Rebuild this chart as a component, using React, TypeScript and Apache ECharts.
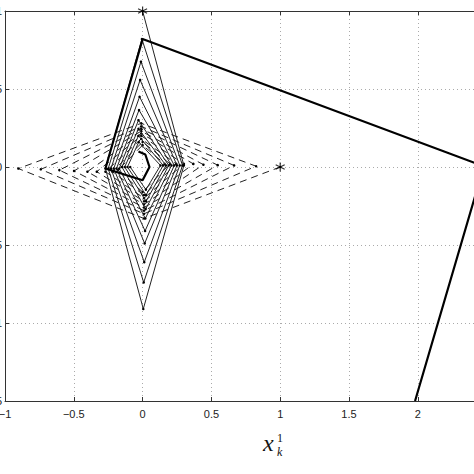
import React, { useEffect, useRef } from "react";
import * as echarts from "echarts";

// x-axis ticks / ranges
const xTicks = [-1, -0.5, 0, 0.5, 1, 1.5, 2];
const yTicks = [-1.5, -1, -0.5, 0, 0.5, 1];

// thin solid spiral (starts at the star (0,1))
const solidX = [0, 0.30, 0.005, -0.27, -0.005, 0.29, 0.008, -0.25, -0.012, 0.27, 0.012, -0.23, -0.018, 0.25, 0.015, -0.21, -0.022, 0.23, 0.018, -0.19, -0.026, 0.21, 0.02, -0.17, -0.03, 0.19, 0.022, -0.15, -0.03, 0.17, 0.025, -0.13, -0.03, 0.15, 0.025, -0.11, -0.028, 0.13, 0.024, -0.09];
const solidY = [1, 0.01, -0.91, -0.01, 0.82, 0.01, -0.74, -0.01, 0.675, 0.01, -0.61, -0.01, 0.558, 0.01, -0.49, -0.01, 0.45, 0.01, -0.41, -0.01, 0.365, 0.01, -0.33, -0.01, 0.30, 0.01, -0.27, 0, 0.245, 0.01, -0.22, 0, 0.2, 0.01, -0.18, 0, 0.16, 0.01, -0.145, 0];

// dashed spiral (starts at the star (1,0))
const dashX = [1, 0.01, -0.903, -0.01, 0.825, 0.01, -0.74, -0.01, 0.665, 0.01, -0.605, -0.01, 0.546, 0.01, -0.498, -0.01, 0.442, 0.01, -0.401, -0.01, 0.369, 0.01, -0.333, -0.01, 0.30, 0.01, -0.27, -0.01, 0.245, 0.01, -0.22, 0, 0.2, 0, -0.18, 0, 0.16];
const dashY = [0, -0.33, -0.01, 0.28, 0.005, -0.30, -0.015, 0.26, 0.01, -0.28, -0.02, 0.245, 0.012, -0.26, -0.025, 0.23, 0.015, -0.24, -0.03, 0.215, 0.02, -0.22, -0.03, 0.2, 0.02, -0.2, -0.03, 0.18, 0.02, -0.18, -0.03, 0.16, 0.02, -0.16, -0.02, 0.14, 0.02];

// thick trajectory
const thickX = [1.98, 2.48, 0, -0.27, 0, 0.05, 0.02, -0.03];
const thickY = [-1.5, 0.005, 0.82, -0.01, -0.085, 0.0, 0.08, 0.1];

// starting points (asterisks)
const starX = [0, 1];
const starY = [1, 0];

const zip = (a: number[], b: number[]) => a.map((v, i) => [v, b[i]]);

const fmt = (v: number) => String(v).replace("-", "\u2212");

export default function App() {
  const ref = useRef<HTMLDivElement>(null);
  useEffect(() => {
    if (!ref.current) return;
    const chart = echarts.init(ref.current, undefined, { renderer: "svg" });
    const axisCommon = {
      type: "value" as const,
      axisLine: { show: true, onZero: false, lineStyle: { color: "#333", width: 1 } },
      axisTick: { show: true, inside: true, length: 4, lineStyle: { color: "#333" } },
    };
    chart.setOption({
      animation: false,
      backgroundColor: "#fff",
      grid: {
        left: 5,
        top: 11,
        bottom: 73,
        right: -12.6,
        show: false,
        containLabel: false,
        outerBoundsMode: "none",
      },
      xAxis: [
        {
          ...axisCommon,
          min: xTicks[0],
          max: 2.5,
          interval: 0.5,
          position: "bottom",
          axisLabel: {
            show: true,
            margin: 7,
            fontSize: 11,
            fontFamily: "Liberation Sans",
            color: "#222",
            showMaxLabel: false,
            formatter: (v: number) => fmt(v),
          },
          splitLine: { show: true, lineStyle: { color: "#aaa", type: [1, 3], width: 1 } },
        },
        {
          ...axisCommon,
          min: xTicks[0],
          max: 2.5,
          interval: 0.5,
          position: "top",
          axisLabel: { show: false },
          splitLine: { show: false },
        },
      ],
      yAxis: [
        {
          ...axisCommon,
          min: yTicks[0],
          max: yTicks[yTicks.length - 1],
          interval: 0.5,
          position: "left",
          axisLabel: {
            show: true,
            margin: 3,
            fontSize: 11,
            fontFamily: "Liberation Sans",
            color: "#222",
            formatter: (v: number) => fmt(v),
          },
          splitLine: { show: true, lineStyle: { color: "#aaa", type: [1, 3], width: 1 } },
        },
      ],
      graphic: [
        {
          type: "text",
          x: 263,
          y: 431,
          style: { text: "x", font: "italic 24px 'Liberation Serif'", fill: "#111", lineHeight: 24, verticalAlign: "top" },
        },
        {
          type: "text",
          x: 277,
          y: 432,
          style: { text: "1", font: "12px 'Liberation Serif'", fill: "#111", lineHeight: 12, verticalAlign: "top" },
        },
        {
          type: "text",
          x: 277,
          y: 446,
          style: { text: "k", font: "italic 12px 'Liberation Serif'", fill: "#111", lineHeight: 12, verticalAlign: "top" },
        },
      ],
      series: [
        {
          type: "line",
          data: zip(dashX, dashY),
          lineStyle: { color: "#222", width: 1, type: [7, 5] },
          symbol: "circle",
          symbolSize: 2.5,
          showSymbol: true,
          itemStyle: { color: "#000" },
          z: 2,
        },
        {
          type: "line",
          data: zip(solidX, solidY),
          lineStyle: { color: "#222", width: 1 },
          symbol: "circle",
          symbolSize: 2.5,
          showSymbol: true,
          itemStyle: { color: "#000" },
          z: 3,
        },
        {
          type: "line",
          data: zip(thickX, thickY),
          lineStyle: { color: "#000", width: 2.2 },
          showSymbol: false,
          symbol: "none",
          z: 4,
        },
        {
          type: "scatter",
          data: zip(starX, starY),
          symbol: "path://M5,0L5,10M0.67,2.5L9.33,7.5M0.67,7.5L9.33,2.5",
          symbolSize: 9,
          clip: false,
          itemStyle: { color: "transparent", borderColor: "#000", borderWidth: 1.2 },
          z: 5,
        },
      ],
    });
    return () => chart.dispose();
  }, []);
  return <div ref={ref} style={{ width: 474, height: 474, position: "absolute", left: 0, top: 0 }} />;
}
